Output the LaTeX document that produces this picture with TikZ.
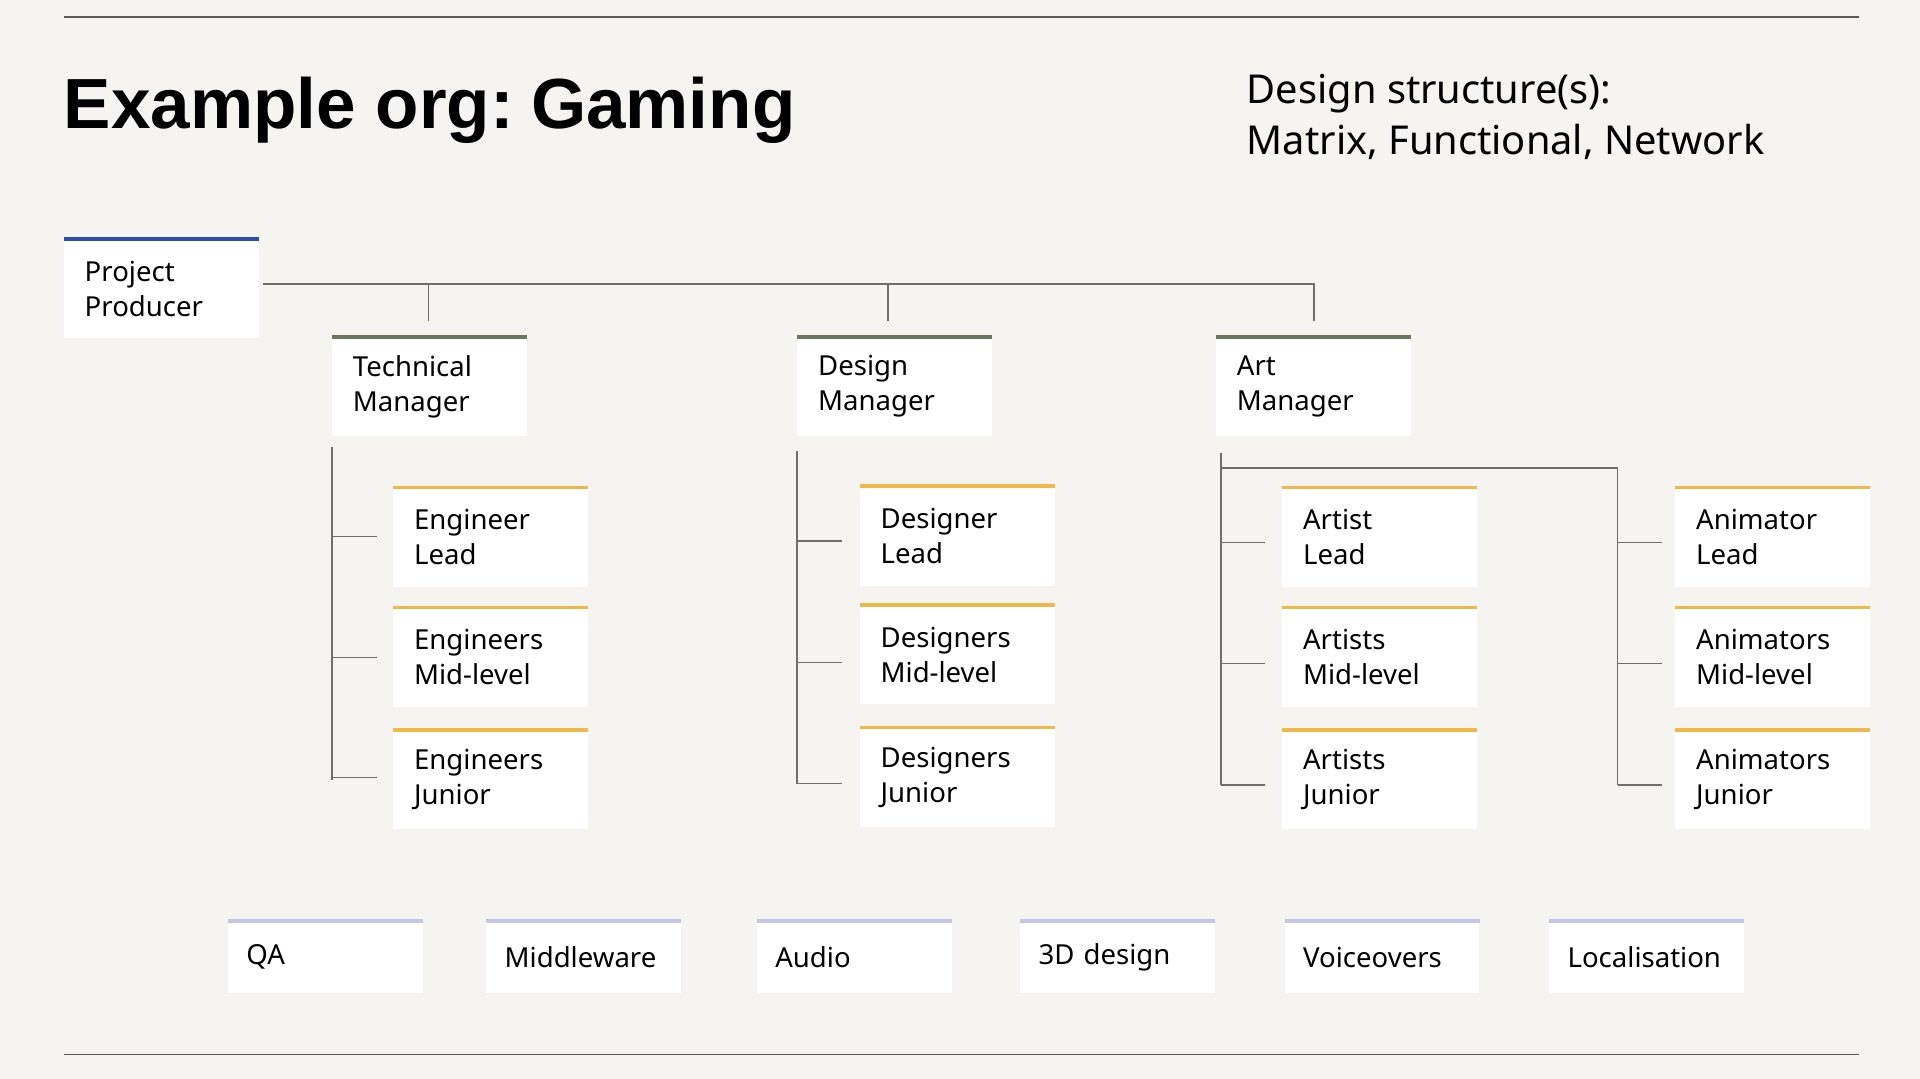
\documentclass[tikz,border=0pt]{standalone}
\usepackage{fontspec}
\setmainfont{Liberation Sans}
\newfontfamily\boxfont{Noto Sans}
\definecolor{bg}{HTML}{F5F4F0}
\definecolor{blu}{HTML}{2A4DB0}
\definecolor{mgr}{HTML}{6B7560}
\definecolor{org}{HTML}{F0B84A}
\definecolor{lav}{HTML}{C4C6E8}
\definecolor{ln}{HTML}{6E6E6E}
\begin{document}
\begin{tikzpicture}[x=1pt,y=-1pt,
  box/.style={fill=white,draw=none,anchor=north west,minimum width=159,minimum height=81,
    text width=125,inner xsep=17,align=left,font=\boxfont\fontsize{22.5}{28.5}\selectfont},
  sbox/.style={box,minimum height=59,inner xsep=15,text width=129},
  conn/.style={draw=ln,line width=1.3}]
\useasboundingbox[fill=bg] (0,0) rectangle (1568,881);
\draw[line width=1.3,draw=ln!80!black] (52,14) -- (1518,14);
\draw[line width=1.3,draw=ln!80!black] (52,861) -- (1518,861);
\node[anchor=base west,inner sep=0,font=\fontsize{58}{60}\selectfont\bfseries] (title) at (52,105) {Example org:\kern-2pt\ Gaming};
\node[anchor=north west,inner sep=0,align=left,font=\boxfont\fontsize{32.5}{42}\selectfont] (ds) at (1018,60) {Design structure(s):\\Matrix, Functional, Network};
% boxes
\node[box] (pp) at (52,195) {Project\\Producer};
\node[box] (tm) at (271,275) {Technical\\Manager};
\node[box] (dm) at (651,275) {Design\\Manager};
\node[box] (am) at (993,275) {Art\\Manager};
\node[box] (e1) at (321,398) {Engineer\\Lead};
\node[box] (e2) at (321,496) {Engineers\\Mid-level};
\node[box] (e3) at (321,596) {Engineers\\Junior};
\node[box] (d1) at (702,397) {Designer\\Lead};
\node[box] (d2) at (702,494) {Designers\\Mid-level};
\node[box] (d3) at (702,594) {Designers\\Junior};
\node[box] (a1) at (1047,398) {Artist\\Lead};
\node[box] (a2) at (1047,496) {Artists\\Mid-level};
\node[box] (a3) at (1047,596) {Artists\\Junior};
\node[box] (n1) at (1368,398) {Animator\\Lead};
\node[box] (n2) at (1368,496) {Animators\\Mid-level};
\node[box] (n3) at (1368,596) {Animators\\Junior};
\node[sbox] (b1) at (186,752) {QA};
\node[sbox] (b2) at (397,752) {Middleware};
\node[sbox] (b3) at (618,752) {Audio};
\node[sbox] (b4) at (833,752) {3D design};
\node[sbox] (b5) at (1049,752) {Voiceovers};
\node[sbox] (b6) at (1265,752) {Localisation};
\draw[blu,line width=3] (pp.north west) -- (pp.north east);
\foreach \n in {tm,dm,am} \draw[mgr,line width=3] (\n.north west) -- (\n.north east);
\foreach \n in {e1,e2,e3,d1,d2,d3,a1,a2,a3,n1,n2,n3} \draw[org,line width=3] (\n.north west) -- (\n.north east);
\foreach \n in {b1,b2,b3,b4,b5,b6} \draw[lav,line width=3] (\n.north west) -- (\n.north east);
% connectors
\coordinate (h0) at (215,232);
\coordinate (h1) at (1073,232);
\draw[conn] (h0) -- (h1) -- (1073,262);
\draw[conn] (350,232) -- (350,262);
\draw[conn] (725,232) -- (725,262);
\draw[conn] (271,365) -- (271,637);
\foreach \y in {438,537,635} \draw[conn] (271,\y) -- (308,\y);
\draw[conn] (651,368) -- (651,640);
\foreach \y in {442,541,640} \draw[conn] (651,\y) -- (688,\y);
\draw[conn] (997,370) -- (997,641);
\draw[conn] (997,382) -- (1321,382) -- (1321,641);
\foreach \y in {443,542,641} {\draw[conn] (997,\y) -- (1033,\y); \draw[conn] (1321,\y) -- (1357,\y);}
\end{tikzpicture}
\end{document}
